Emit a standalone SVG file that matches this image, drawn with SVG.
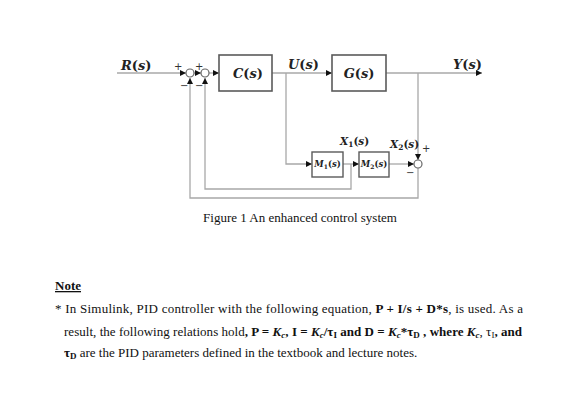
<svg xmlns="http://www.w3.org/2000/svg" width="586" height="408" viewBox="0 0 586 408">
<defs>
<marker id="ah" viewBox="0 0 6 6" refX="6" refY="3" markerWidth="6" markerHeight="6" markerUnits="userSpaceOnUse" orient="auto">
<path d="M0,0 L6,3 L0,6 z" fill="#111"/>
</marker>
<style>
.ln{fill:none;stroke:#a8a8a8;stroke-width:1.3}
.ar{marker-end:url(#ah)}
.box{fill:#fff;stroke:#5a5a5a;stroke-width:1.6}
.sbox{fill:#fff;stroke:#5a5a5a;stroke-width:1.4}
.sum{fill:#fff;stroke:#666;stroke-width:1.2}
.m{font-family:"DejaVu Serif","Liberation Serif",serif;font-weight:bold;fill:#222}
.i{font-style:italic}
.sg{font-family:"DejaVu Sans","Liberation Sans",sans-serif;font-size:10px;fill:#333}
.t{font-family:"Liberation Serif","Times New Roman",serif;font-size:13px;fill:#111}
.b{font-weight:bold}
</style>
</defs>
<rect width="586" height="408" fill="#fff"/>
<g id="connectors">
<path class="ln ar" d="M117,73 H186"/>
<path class="ln ar" d="M194,73 H201"/>
<path class="ln ar" d="M209,73 H219"/>
<path class="ln ar" d="M272,73 H332"/>
<path class="ln ar" d="M386,73 H482"/>
<path class="ln ar" d="M286,73 V164 H312"/>
<path class="ln ar" d="M343,164 H359"/>
<path class="ln ar" d="M351,164 V189 H205 V78"/>
<path class="ln ar" d="M389,164 H414"/>
<path class="ln ar" d="M418,73 V160"/>
<path class="ln ar" d="M418,168 V198 H190 V78"/>
</g>
<g id="sum1"><circle class="sum" cx="190" cy="73" r="4"/><text class="sg" x="174" y="70">+</text><text class="sg" x="180" y="89">−</text></g>
<g id="sum2"><circle class="sum" cx="205" cy="73" r="4"/><text class="sg" x="195" y="70">+</text><text class="sg" x="195" y="89">−</text></g>
<g id="sum3"><circle class="sum" cx="418" cy="164" r="4"/><text class="sg" x="422" y="152">+</text><text class="sg" x="406" y="176">−</text></g>
<g id="C"><rect class="box" x="219" y="55" width="53" height="36"/><text class="m" x="248" y="78" font-size="13" text-anchor="middle"><tspan class="i">C</tspan>(<tspan class="i">s</tspan>)</text></g>
<g id="G"><rect class="box" x="332" y="55" width="54" height="36"/><text class="m" x="359" y="78" font-size="13" text-anchor="middle"><tspan class="i">G</tspan>(<tspan class="i">s</tspan>)</text></g>
<g id="M1"><rect class="sbox" x="312" y="152" width="31" height="25"/><text class="m" x="327.5" y="167" font-size="8.5" text-anchor="middle"><tspan class="i">M</tspan><tspan font-size="6" dy="1.5">1</tspan><tspan dy="-1.5">(</tspan><tspan class="i">s</tspan>)</text></g>
<g id="M2"><rect class="sbox" x="359" y="152" width="30" height="25"/><text class="m" x="374" y="167" font-size="8.5" text-anchor="middle"><tspan class="i">M</tspan><tspan font-size="6" dy="1.5">2</tspan><tspan dy="-1.5">(</tspan><tspan class="i">s</tspan>)</text></g>
<g id="labels">
<text class="m" x="121" y="70" font-size="13"><tspan class="i">R</tspan>(<tspan class="i">s</tspan>)</text>
<text class="m" x="288" y="69" font-size="13"><tspan class="i">U</tspan>(<tspan class="i">s</tspan>)</text>
<text class="m" x="453" y="69" font-size="13"><tspan class="i">Y</tspan>(<tspan class="i">s</tspan>)</text>
<text class="m" x="340" y="145" font-size="10.5"><tspan class="i">X</tspan><tspan font-size="7.5" dy="2">1</tspan><tspan dy="-2">(</tspan><tspan class="i">s</tspan>)</text>
<text class="m" x="390" y="148" font-size="10.5"><tspan class="i">X</tspan><tspan font-size="7.5" dy="2">2</tspan><tspan dy="-2">(</tspan><tspan class="i">s</tspan>)</text>
</g>
<text class="t" x="300" y="222" text-anchor="middle" font-size="12.5">Figure 1 An enhanced control system</text>
<text class="t b" x="55" y="290" text-decoration="underline">Note</text>
<text class="t" x="55" y="313" textLength="468" lengthAdjust="spacing">* In Simulink, PID controller with the following equation, <tspan class="b">P + I/s + D*s</tspan>, is used. As a</text>
<text class="t" x="64" y="336" textLength="458" lengthAdjust="spacing">result, the following relations hold<tspan class="b">, P = <tspan class="i">K<tspan font-size="9" dy="2">c</tspan></tspan><tspan dy="-2">, I = </tspan><tspan class="i">K<tspan font-size="9" dy="2">c</tspan></tspan><tspan dy="-2">/τ</tspan><tspan font-size="9" dy="2">I</tspan><tspan dy="-2"> and D = </tspan><tspan class="i">K<tspan font-size="9" dy="2">c</tspan></tspan><tspan dy="-2">*τ</tspan><tspan font-size="9" dy="2">D</tspan><tspan dy="-2"> , where </tspan><tspan class="i">K<tspan font-size="9" dy="2">c</tspan></tspan></tspan><tspan dy="-2">, τ</tspan><tspan font-size="9" dy="2">I</tspan><tspan class="b" dy="-2">, and</tspan></text>
<text class="t" x="64" y="357"><tspan class="b">τ<tspan font-size="9" dy="2">D</tspan></tspan><tspan dy="-2"> are the PID parameters defined in the textbook and lecture notes.</tspan></text>
</svg>
